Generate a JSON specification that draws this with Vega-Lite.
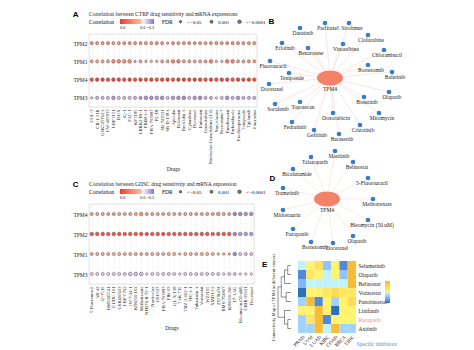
{
"$schema": "https://vega.github.io/schema/vega-lite/v6.json",
"background": "white",
"padding": {"left": 72, "top": 11, "right": 0, "bottom": 0},
"config": {"view": {"stroke": null}, "font": "Liberation Serif", "axis": {"labelFont": "Liberation Serif", "titleFont": "Liberation Serif", "titleFontWeight": "normal", "labelColor": "#222", "titleColor": "#222"}, "legend": {"labelFont": "Liberation Serif", "titleFont": "Liberation Serif", "titleFontWeight": "normal"}},
"datasets": {
"ctrp": [
{"d":"COL-3","g":"TPM2","r":0.22,"f":2},{"d":"CR-1-31B","g":"TPM2","r":0.2,"f":2},{"d":"GSK525762A","g":"TPM2","r":0.2,"f":2},{"d":"GW-405833","g":"TPM2","r":0.22,"f":2},{"d":"I-BET151","g":"TPM2","r":0.2,"f":2},{"d":"ISOX","g":"TPM2","r":0.18,"f":2},{"d":"JQ-1","g":"TPM2","r":0.2,"f":2},{"d":"PAC-1","g":"TPM2","r":0.22,"f":2},{"d":"KPT185","g":"TPM2","r":0.2,"f":2},{"d":"LRRK2-IN-1","g":"TPM2","r":0.2,"f":2},{"d":"PRIMA-1","g":"TPM2","r":0.18,"f":2},{"d":"PHA-793887","g":"TPM2","r":0.2,"f":2},{"d":"PL-DI","g":"TPM2","r":0.22,"f":2},{"d":"SB-743921","g":"TPM2","r":0.2,"f":2},{"d":"SR-II-138A","g":"TPM2","r":0.1,"f":1},{"d":"Apicidin","g":"TPM2","r":0.22,"f":2},{"d":"Belinostat","g":"TPM2","r":0.2,"f":2},{"d":"Brefeldin A","g":"TPM2","r":0.2,"f":2},{"d":"Cytarabine","g":"TPM2","r":0.22,"f":2},{"d":"Docetaxel","g":"TPM2","r":0.2,"f":2},{"d":"Entinostat","g":"TPM2","r":0.2,"f":2},{"d":"Gemcitabine","g":"TPM2","r":0.18,"f":2},{"d":"Navitoclax:Gemcitabine (1:1)","g":"TPM2","r":0.2,"f":2},{"d":"Narciclasine","g":"TPM2","r":0.22,"f":2},{"d":"Necrostatin-7","g":"TPM2","r":0.2,"f":2},{"d":"Panobinostat","g":"TPM2","r":0.2,"f":2},{"d":"Parbendazole","g":"TPM2","r":0.22,"f":2},{"d":"Prochlorperazine","g":"TPM2","r":0.2,"f":2},{"d":"Teniposide","g":"TPM2","r":0.2,"f":2},{"d":"Tipifarnib","g":"TPM2","r":0.2,"f":2},{"d":"Vincristine","g":"TPM2","r":0.2,"f":2},
{"d":"COL-3","g":"TPM1","r":0.15,"f":2},{"d":"CR-1-31B","g":"TPM1","r":0.15,"f":2},{"d":"GSK525762A","g":"TPM1","r":0.15,"f":2},{"d":"GW-405833","g":"TPM1","r":0.15,"f":2},{"d":"I-BET151","g":"TPM1","r":0.25,"f":3},{"d":"ISOX","g":"TPM1","r":0.25,"f":3},{"d":"JQ-1","g":"TPM1","r":0.2,"f":3},{"d":"PAC-1","g":"TPM1","r":0.25,"f":3},{"d":"KPT185","g":"TPM1","r":0.1,"f":1},{"d":"LRRK2-IN-1","g":"TPM1","r":0.12,"f":2},{"d":"PRIMA-1","g":"TPM1","r":0.08,"f":1},{"d":"PHA-793887","g":"TPM1","r":0.08,"f":1},{"d":"PL-DI","g":"TPM1","r":0.1,"f":1},{"d":"SB-743921","g":"TPM1","r":0.15,"f":2},{"d":"SR-II-138A","g":"TPM1","r":0.15,"f":2},{"d":"Apicidin","g":"TPM1","r":0.25,"f":3},{"d":"Belinostat","g":"TPM1","r":0.28,"f":3},{"d":"Brefeldin A","g":"TPM1","r":0.2,"f":2},{"d":"Cytarabine","g":"TPM1","r":0.15,"f":2},{"d":"Docetaxel","g":"TPM1","r":0.12,"f":2},{"d":"Entinostat","g":"TPM1","r":0.15,"f":2},{"d":"Gemcitabine","g":"TPM1","r":0.2,"f":2},{"d":"Navitoclax:Gemcitabine (1:1)","g":"TPM1","r":0.28,"f":3},{"d":"Narciclasine","g":"TPM1","r":0.08,"f":1},{"d":"Necrostatin-7","g":"TPM1","r":0.1,"f":1},{"d":"Panobinostat","g":"TPM1","r":0.3,"f":3},{"d":"Parbendazole","g":"TPM1","r":0.28,"f":3},{"d":"Prochlorperazine","g":"TPM1","r":0.15,"f":2},{"d":"Teniposide","g":"TPM1","r":0.15,"f":2},{"d":"Tipifarnib","g":"TPM1","r":0.2,"f":2},{"d":"Vincristine","g":"TPM1","r":0.15,"f":2},
{"d":"COL-3","g":"TPM4","r":0.5,"f":3},{"d":"CR-1-31B","g":"TPM4","r":0.55,"f":3},{"d":"GSK525762A","g":"TPM4","r":0.55,"f":3},{"d":"GW-405833","g":"TPM4","r":0.5,"f":3},{"d":"I-BET151","g":"TPM4","r":0.55,"f":3},{"d":"ISOX","g":"TPM4","r":0.55,"f":3},{"d":"JQ-1","g":"TPM4","r":0.5,"f":3},{"d":"PAC-1","g":"TPM4","r":0.55,"f":3},{"d":"KPT185","g":"TPM4","r":0.5,"f":3},{"d":"LRRK2-IN-1","g":"TPM4","r":0.55,"f":3},{"d":"PRIMA-1","g":"TPM4","r":0.5,"f":3},{"d":"PHA-793887","g":"TPM4","r":0.55,"f":3},{"d":"PL-DI","g":"TPM4","r":0.5,"f":3},{"d":"SB-743921","g":"TPM4","r":0.55,"f":3},{"d":"SR-II-138A","g":"TPM4","r":0.55,"f":3},{"d":"Apicidin","g":"TPM4","r":0.5,"f":3},{"d":"Belinostat","g":"TPM4","r":0.55,"f":3},{"d":"Brefeldin A","g":"TPM4","r":0.55,"f":3},{"d":"Cytarabine","g":"TPM4","r":0.5,"f":3},{"d":"Docetaxel","g":"TPM4","r":0.55,"f":3},{"d":"Entinostat","g":"TPM4","r":0.55,"f":3},{"d":"Gemcitabine","g":"TPM4","r":0.5,"f":3},{"d":"Navitoclax:Gemcitabine (1:1)","g":"TPM4","r":0.55,"f":3},{"d":"Narciclasine","g":"TPM4","r":0.5,"f":3},{"d":"Necrostatin-7","g":"TPM4","r":0.55,"f":3},{"d":"Panobinostat","g":"TPM4","r":0.55,"f":3},{"d":"Parbendazole","g":"TPM4","r":0.5,"f":3},{"d":"Prochlorperazine","g":"TPM4","r":0.55,"f":3},{"d":"Teniposide","g":"TPM4","r":0.5,"f":3},{"d":"Tipifarnib","g":"TPM4","r":0.55,"f":3},{"d":"Vincristine","g":"TPM4","r":0.5,"f":3},
{"d":"COL-3","g":"TPM3","r":-0.1,"f":1},{"d":"CR-1-31B","g":"TPM3","r":-0.15,"f":2},{"d":"GSK525762A","g":"TPM3","r":-0.15,"f":2},{"d":"GW-405833","g":"TPM3","r":-0.12,"f":2},{"d":"I-BET151","g":"TPM3","r":-0.2,"f":3},{"d":"ISOX","g":"TPM3","r":-0.12,"f":2},{"d":"JQ-1","g":"TPM3","r":-0.12,"f":2},{"d":"PAC-1","g":"TPM3","r":-0.12,"f":2},{"d":"KPT185","g":"TPM3","r":-0.15,"f":2},{"d":"LRRK2-IN-1","g":"TPM3","r":-0.2,"f":2},{"d":"PRIMA-1","g":"TPM3","r":-0.22,"f":3},{"d":"PHA-793887","g":"TPM3","r":-0.22,"f":3},{"d":"PL-DI","g":"TPM3","r":-0.2,"f":3},{"d":"SB-743921","g":"TPM3","r":-0.22,"f":3},{"d":"SR-II-138A","g":"TPM3","r":-0.12,"f":2},{"d":"Apicidin","g":"TPM3","r":-0.2,"f":3},{"d":"Belinostat","g":"TPM3","r":-0.22,"f":3},{"d":"Brefeldin A","g":"TPM3","r":-0.25,"f":3},{"d":"Cytarabine","g":"TPM3","r":-0.12,"f":2},{"d":"Docetaxel","g":"TPM3","r":-0.2,"f":3},{"d":"Entinostat","g":"TPM3","r":-0.25,"f":3},{"d":"Gemcitabine","g":"TPM3","r":-0.15,"f":2},{"d":"Navitoclax:Gemcitabine (1:1)","g":"TPM3","r":-0.15,"f":2},{"d":"Narciclasine","g":"TPM3","r":-0.08,"f":1},{"d":"Necrostatin-7","g":"TPM3","r":-0.12,"f":2},{"d":"Panobinostat","g":"TPM3","r":-0.22,"f":3},{"d":"Parbendazole","g":"TPM3","r":-0.15,"f":2},{"d":"Prochlorperazine","g":"TPM3","r":-0.2,"f":3},{"d":"Teniposide","g":"TPM3","r":-0.15,"f":2},{"d":"Tipifarnib","g":"TPM3","r":-0.15,"f":2},{"d":"Vincristine","g":"TPM3","r":-0.15,"f":2}
],
"gdsc": [
{"d":"5-Fluorouracil","g":"TPM4","r":0.15,"f":2},{"d":"AR-42","g":"TPM4","r":0.15,"f":2},{"d":"AT-7519","g":"TPM4","r":0.15,"f":2},{"d":"BMS345541","g":"TPM4","r":0.15,"f":2},{"d":"CUDC-101","g":"TPM4","r":0.18,"f":2},{"d":"GSK690693","g":"TPM4","r":0.15,"f":2},{"d":"I-BET-762","g":"TPM4","r":0.15,"f":2},{"d":"JW-7-24-1","g":"TPM4","r":0.15,"f":2},{"d":"KIN001-102","g":"TPM4","r":0.15,"f":2},{"d":"Methotrexate","g":"TPM4","r":0.2,"f":3},{"d":"NPK76-II-72-1","g":"TPM4","r":0.15,"f":2},{"d":"Navitoclax","g":"TPM4","r":0.15,"f":2},{"d":"OSI-027","g":"TPM4","r":0.15,"f":2},{"d":"PHA-793887","g":"TPM4","r":0.15,"f":2},{"d":"PIK-93","g":"TPM4","r":0.15,"f":2},{"d":"QL-X-138","g":"TPM4","r":0.15,"f":2},{"d":"TAK-715","g":"TPM4","r":0.15,"f":2},{"d":"THZ-2-102-1","g":"TPM4","r":0.15,"f":2},{"d":"TPCA-1","g":"TPM4","r":0.15,"f":2},{"d":"Tubastatin A","g":"TPM4","r":0.15,"f":2},{"d":"Vorinostat","g":"TPM4","r":0.15,"f":2},{"d":"WZ3105","g":"TPM4","r":0.15,"f":2},{"d":"XMD13-2","g":"TPM4","r":0.18,"f":2},{"d":"ZSTK474","g":"TPM4","r":0.2,"f":3},{"d":"BMS-754807","g":"TPM4","r":0.15,"f":2},{"d":"KIN001-260","g":"TPM4","r":0.15,"f":2},{"d":"17-AAG","g":"TPM4","r":-0.25,"f":3},{"d":"Bleomycin (50 uM)","g":"TPM4","r":-0.25,"f":3},{"d":"CHIR-99021","g":"TPM4","r":-0.22,"f":3},{"d":"Docetaxel","g":"TPM4","r":-0.22,"f":3},
{"d":"5-Fluorouracil","g":"TPM2","r":0.5,"f":3},{"d":"AR-42","g":"TPM2","r":0.5,"f":3},{"d":"AT-7519","g":"TPM2","r":0.52,"f":3},{"d":"BMS345541","g":"TPM2","r":0.5,"f":3},{"d":"CUDC-101","g":"TPM2","r":0.5,"f":3},{"d":"GSK690693","g":"TPM2","r":0.52,"f":3},{"d":"I-BET-762","g":"TPM2","r":0.5,"f":3},{"d":"JW-7-24-1","g":"TPM2","r":0.5,"f":3},{"d":"KIN001-102","g":"TPM2","r":0.5,"f":3},{"d":"Methotrexate","g":"TPM2","r":0.52,"f":3},{"d":"NPK76-II-72-1","g":"TPM2","r":0.5,"f":3},{"d":"Navitoclax","g":"TPM2","r":0.5,"f":3},{"d":"OSI-027","g":"TPM2","r":0.5,"f":3},{"d":"PHA-793887","g":"TPM2","r":0.52,"f":3},{"d":"PIK-93","g":"TPM2","r":0.5,"f":3},{"d":"QL-X-138","g":"TPM2","r":0.5,"f":3},{"d":"TAK-715","g":"TPM2","r":0.5,"f":3},{"d":"THZ-2-102-1","g":"TPM2","r":0.52,"f":3},{"d":"TPCA-1","g":"TPM2","r":0.5,"f":3},{"d":"Tubastatin A","g":"TPM2","r":0.5,"f":3},{"d":"Vorinostat","g":"TPM2","r":0.5,"f":3},{"d":"WZ3105","g":"TPM2","r":0.52,"f":3},{"d":"XMD13-2","g":"TPM2","r":0.5,"f":3},{"d":"ZSTK474","g":"TPM2","r":0.5,"f":3},{"d":"BMS-754807","g":"TPM2","r":0.5,"f":3},{"d":"KIN001-260","g":"TPM2","r":0.5,"f":3},{"d":"17-AAG","g":"TPM2","r":-0.25,"f":3},{"d":"Bleomycin (50 uM)","g":"TPM2","r":-0.2,"f":3},{"d":"CHIR-99021","g":"TPM2","r":-0.2,"f":3},{"d":"Docetaxel","g":"TPM2","r":-0.2,"f":3},
{"d":"5-Fluorouracil","g":"TPM1","r":0.1,"f":2},{"d":"AR-42","g":"TPM1","r":0.1,"f":2},{"d":"AT-7519","g":"TPM1","r":0.1,"f":2},{"d":"BMS345541","g":"TPM1","r":0.1,"f":2},{"d":"CUDC-101","g":"TPM1","r":0.1,"f":2},{"d":"GSK690693","g":"TPM1","r":0.1,"f":2},{"d":"I-BET-762","g":"TPM1","r":0.1,"f":2},{"d":"JW-7-24-1","g":"TPM1","r":0.1,"f":2},{"d":"KIN001-102","g":"TPM1","r":0.1,"f":2},{"d":"Methotrexate","g":"TPM1","r":0.12,"f":2},{"d":"NPK76-II-72-1","g":"TPM1","r":0.1,"f":2},{"d":"Navitoclax","g":"TPM1","r":0.1,"f":2},{"d":"OSI-027","g":"TPM1","r":0.1,"f":2},{"d":"PHA-793887","g":"TPM1","r":0.1,"f":2},{"d":"PIK-93","g":"TPM1","r":0.1,"f":2},{"d":"QL-X-138","g":"TPM1","r":0.1,"f":2},{"d":"TAK-715","g":"TPM1","r":0.05,"f":1},{"d":"THZ-2-102-1","g":"TPM1","r":0.1,"f":2},{"d":"TPCA-1","g":"TPM1","r":0.1,"f":2},{"d":"Tubastatin A","g":"TPM1","r":0.1,"f":2},{"d":"Vorinostat","g":"TPM1","r":0.1,"f":2},{"d":"WZ3105","g":"TPM1","r":0.1,"f":2},{"d":"XMD13-2","g":"TPM1","r":0.1,"f":2},{"d":"ZSTK474","g":"TPM1","r":0.05,"f":1},{"d":"BMS-754807","g":"TPM1","r":0.03,"f":1},{"d":"KIN001-260","g":"TPM1","r":0.05,"f":1},{"d":"17-AAG","g":"TPM1","r":-0.25,"f":3},{"d":"Bleomycin (50 uM)","g":"TPM1","r":-0.1,"f":2},{"d":"CHIR-99021","g":"TPM1","r":-0.1,"f":2},{"d":"Docetaxel","g":"TPM1","r":-0.1,"f":2},
{"d":"5-Fluorouracil","g":"TPM3","r":-0.08,"f":2},{"d":"AR-42","g":"TPM3","r":-0.08,"f":2},{"d":"AT-7519","g":"TPM3","r":-0.08,"f":2},{"d":"BMS345541","g":"TPM3","r":-0.05,"f":2},{"d":"CUDC-101","g":"TPM3","r":-0.08,"f":2},{"d":"GSK690693","g":"TPM3","r":-0.08,"f":2},{"d":"I-BET-762","g":"TPM3","r":-0.1,"f":2},{"d":"JW-7-24-1","g":"TPM3","r":-0.12,"f":3},{"d":"KIN001-102","g":"TPM3","r":-0.12,"f":3},{"d":"Methotrexate","g":"TPM3","r":-0.12,"f":3},{"d":"NPK76-II-72-1","g":"TPM3","r":-0.05,"f":1},{"d":"Navitoclax","g":"TPM3","r":-0.08,"f":2},{"d":"OSI-027","g":"TPM3","r":-0.08,"f":2},{"d":"PHA-793887","g":"TPM3","r":-0.08,"f":2},{"d":"PIK-93","g":"TPM3","r":-0.1,"f":2},{"d":"QL-X-138","g":"TPM3","r":-0.08,"f":2},{"d":"TAK-715","g":"TPM3","r":-0.05,"f":1},{"d":"THZ-2-102-1","g":"TPM3","r":-0.08,"f":2},{"d":"TPCA-1","g":"TPM3","r":-0.08,"f":2},{"d":"Tubastatin A","g":"TPM3","r":-0.08,"f":2},{"d":"Vorinostat","g":"TPM3","r":-0.08,"f":2},{"d":"WZ3105","g":"TPM3","r":-0.1,"f":2},{"d":"XMD13-2","g":"TPM3","r":-0.08,"f":2},{"d":"ZSTK474","g":"TPM3","r":-0.08,"f":2},{"d":"BMS-754807","g":"TPM3","r":-0.05,"f":1},{"d":"KIN001-260","g":"TPM3","r":-0.08,"f":2},{"d":"17-AAG","g":"TPM3","r":-0.1,"f":2},{"d":"Bleomycin (50 uM)","g":"TPM3","r":-0.05,"f":1},{"d":"CHIR-99021","g":"TPM3","r":-0.05,"f":1},{"d":"Docetaxel","g":"TPM3","r":-0.05,"f":1}
],
"netB": [
{"n":"Dasatinib","px":298,"py":27},{"n":"Paclitaxel","px":323,"py":22},{"n":"Sirolimus","px":347,"py":22},{"n":"Clofarabine","px":366,"py":34},{"n":"Erlotinib","px":280,"py":42},{"n":"Bexarotene","px":306,"py":47},{"n":"Vinorelbine","px":341,"py":43},{"n":"Chlorambucil","px":382,"py":49},{"n":"Fluorouracil","px":268,"py":60},{"n":"Bortezomib","px":366,"py":64},{"n":"Bafetinib","px":390,"py":71},{"n":"Teniposide","px":287,"py":72},{"n":"Docetaxel","px":267,"py":83},{"n":"Olaparib","px":387,"py":91},{"n":"Sorafenib","px":273,"py":103},{"n":"Topotecan","px":298,"py":101},{"n":"Bosutinib","px":362,"py":96},{"n":"Doxorubicin","px":331,"py":112},{"n":"Mitomycin","px":377,"py":112},{"n":"Fedratinib","px":290,"py":121},{"n":"Crizotinib","px":358,"py":124},{"n":"Gefitinib","px":312,"py":129},{"n":"Barasertib","px":337,"py":133},
{"n":"TPM4","px":328,"py":77,"c":1}
],
"netD": [
{"n":"Masitinib","px":333,"py":150},{"n":"Talazoparib","px":309,"py":156},{"n":"Belinostat","px":351,"py":161},{"n":"Bicalutamide","px":291,"py":168},{"n":"5-Fluorouracil","px":366,"py":177},{"n":"Trametinib","px":281,"py":187},{"n":"Methotrexate","px":371,"py":198},{"n":"Midostaurin","px":281,"py":209},{"n":"Bleomycin (50 uM)","px":366,"py":219},{"n":"Pazopanib","px":291,"py":228},{"n":"Olaparib","px":351,"py":235},{"n":"Bortezomib","px":309,"py":241},{"n":"Docetaxel","px":331,"py":242},
{"n":"TPM4","px":325,"py":198,"c":1}
],
"cmap": [
{"drug":"Selumetinib","ca":"PRAD","v":-0.1},{"drug":"Selumetinib","ca":"UVM","v":0},{"drug":"Selumetinib","ca":"LUAD","v":0.3},{"drug":"Selumetinib","ca":"KIRC","v":-0.4},{"drug":"Selumetinib","ca":"COAD","v":0},{"drug":"Selumetinib","ca":"BRCA","v":-0.8},{"drug":"Selumetinib","ca":"LIHC","v":0.9},
{"drug":"Olaparib","ca":"PRAD","v":-0.8},{"drug":"Olaparib","ca":"UVM","v":0.2},{"drug":"Olaparib","ca":"LUAD","v":0},{"drug":"Olaparib","ca":"KIRC","v":-0.1},{"drug":"Olaparib","ca":"COAD","v":0},{"drug":"Olaparib","ca":"BRCA","v":-0.4},{"drug":"Olaparib","ca":"LIHC","v":0.9},
{"drug":"Belinostat","ca":"PRAD","v":-0.5},{"drug":"Belinostat","ca":"UVM","v":-0.1},{"drug":"Belinostat","ca":"LUAD","v":-0.1},{"drug":"Belinostat","ca":"KIRC","v":-0.1},{"drug":"Belinostat","ca":"COAD","v":-0.1},{"drug":"Belinostat","ca":"BRCA","v":-0.1},{"drug":"Belinostat","ca":"LIHC","v":0.9},
{"drug":"Vorinostat","ca":"PRAD","v":-1},{"drug":"Vorinostat","ca":"UVM","v":0},{"drug":"Vorinostat","ca":"LUAD","v":0},{"drug":"Vorinostat","ca":"KIRC","v":0.2},{"drug":"Vorinostat","ca":"COAD","v":0.4},{"drug":"Vorinostat","ca":"BRCA","v":0.2},{"drug":"Vorinostat","ca":"LIHC","v":0.2},
{"drug":"Panobinostat","ca":"PRAD","v":-0.3},{"drug":"Panobinostat","ca":"UVM","v":0.9},{"drug":"Panobinostat","ca":"LUAD","v":-0.8},{"drug":"Panobinostat","ca":"KIRC","v":0},{"drug":"Panobinostat","ca":"COAD","v":-0.3},{"drug":"Panobinostat","ca":"BRCA","v":0},{"drug":"Panobinostat","ca":"LIHC","v":0.4},
{"drug":"Linifanib","ca":"PRAD","v":0},{"drug":"Linifanib","ca":"UVM","v":0},{"drug":"Linifanib","ca":"LUAD","v":0.9},{"drug":"Linifanib","ca":"KIRC","v":0},{"drug":"Linifanib","ca":"COAD","v":-1},{"drug":"Linifanib","ca":"BRCA","v":0},{"drug":"Linifanib","ca":"LIHC","v":0},
{"drug":"Rucaparib","ca":"PRAD","v":-0.3},{"drug":"Rucaparib","ca":"UVM","v":0.2},{"drug":"Rucaparib","ca":"LUAD","v":0.9},{"drug":"Rucaparib","ca":"KIRC","v":-0.8},{"drug":"Rucaparib","ca":"COAD","v":0},{"drug":"Rucaparib","ca":"BRCA","v":0},{"drug":"Rucaparib","ca":"LIHC","v":0},
{"drug":"Axitinib","ca":"PRAD","v":-0.3},{"drug":"Axitinib","ca":"UVM","v":-0.3},{"drug":"Axitinib","ca":"LUAD","v":0.9},{"drug":"Axitinib","ca":"KIRC","v":-0.1},{"drug":"Axitinib","ca":"COAD","v":0.9},{"drug":"Axitinib","ca":"BRCA","v":-0.3},{"drug":"Axitinib","ca":"LIHC","v":-0.3}
],
"dendro": [
{"h1":1,"h2":1,"y1":0.5,"y2":1.5},{"h1":2,"h2":2,"y1":1,"y2":2.5},{"h1":1.5,"h2":1.5,"y1":3.5,"y2":4.5},{"h1":3,"h2":3,"y1":1.75,"y2":4},{"h1":1,"h2":1,"y1":6.5,"y2":7.5},{"h1":2,"h2":2,"y1":5.5,"y2":7},{"h1":4,"h2":4,"y1":2.875,"y2":6.25},
{"h1":0,"h2":1,"y1":0.5,"y2":0.5},{"h1":0,"h2":1,"y1":1.5,"y2":1.5},{"h1":1,"h2":2,"y1":1,"y2":1},{"h1":0,"h2":2,"y1":2.5,"y2":2.5},{"h1":0,"h2":1.5,"y1":3.5,"y2":3.5},{"h1":0,"h2":1.5,"y1":4.5,"y2":4.5},{"h1":2,"h2":3,"y1":1.75,"y2":1.75},{"h1":1.5,"h2":3,"y1":4,"y2":4},{"h1":0,"h2":1,"y1":6.5,"y2":6.5},{"h1":0,"h2":1,"y1":7.5,"y2":7.5},{"h1":0,"h2":2,"y1":5.5,"y2":5.5},{"h1":1,"h2":2,"y1":7,"y2":7},{"h1":3,"h2":4,"y1":2.875,"y2":2.875},{"h1":2,"h2":4,"y1":6.25,"y2":6.25}
]
},
"hconcat": [
{
"vconcat": [
{
"title": {"text": "A", "anchor": "start", "frame": "bounds", "font": "Liberation Sans", "fontSize": 8, "fontWeight": "bold", "offset": -8},
"vconcat": [
{
"width": 168, "height": 73,
"view": {"stroke": "#cccccc", "strokeWidth": 0.6},
"title": {"text": "Correlation between CTRP drug sensitivity and mRNA expressions", "anchor": "start", "frame": "group", "font": "Liberation Serif", "fontSize": 5.5, "fontWeight": "normal", "color": "#222", "offset": 2},
"data": {"name": "ctrp"},
"mark": {"type": "circle", "stroke": "#5b4848", "strokeWidth": 0.5, "opacity": 1},
"encoding": {
"x": {"field": "d", "type": "nominal", "sort": null, "title": "Drugs", "axis": {"labelAngle": -90, "labelFontSize": 4.6, "labelLimit": 60, "ticks": false, "labelPadding": 2, "domain": false, "grid": true, "gridColor": "#e2e2e2", "gridDash": [2, 2], "gridWidth": 0.5, "titleFontSize": 5.5, "titlePadding": 3}},
"y": {"field": "g", "type": "nominal", "sort": ["TPM2", "TPM1", "TPM4", "TPM3"], "title": null, "axis": {"labelFontSize": 5.5, "ticks": false, "labelPadding": 2, "domain": false}},
"color": {"field": "r", "type": "quantitative", "scale": {"domain": [0.6, 0, -0.3], "range": ["#e4392c", "#ffffff", "#8577c0"]}, "legend": {"orient": "top", "direction": "horizontal", "title": "Correlation", "titleOrient": "left", "titleFontSize": 5.5, "gradientLength": 34, "gradientThickness": 5, "labelFontSize": 4.2, "values": [0.6, 0, -0.3], "format": ".1f", "labelOverlap": false, "offset": 3}},
"size": {"field": "f", "type": "ordinal", "scale": {"domain": [1, 2, 3], "range": [6, 13, 21]}, "legend": {"orient": "top", "direction": "horizontal", "title": "FDR", "titleOrient": "left", "titleFontSize": 5.5, "labelFontSize": 5, "symbolFillColor": "#777", "symbolStrokeColor": "#333", "symbolStrokeWidth": 0.6, "labelExpr": "datum.value == 1 ? '<=0.05' : datum.value == 2 ? '0.001' : '<=0.0001'", "columnPadding": 6, "offset": 3}}
}
}
],
"resolve": {"scale": {"color": "independent", "size": "independent"}, "legend": {"color": "independent", "size": "independent"}}
},
{
"title": {"text": "C", "anchor": "start", "frame": "bounds", "font": "Liberation Sans", "fontSize": 8, "fontWeight": "bold", "offset": -8},
"vconcat": [
{
"width": 165, "height": 80,
"view": {"stroke": "#cccccc", "strokeWidth": 0.6},
"title": {"text": "Correlation between GDSC drug sensitivity and mRNA expression", "anchor": "start", "frame": "group", "font": "Liberation Serif", "fontSize": 5.5, "fontWeight": "normal", "color": "#222", "offset": 2},
"data": {"name": "gdsc"},
"mark": {"type": "circle", "stroke": "#5b4848", "strokeWidth": 0.5, "opacity": 1},
"encoding": {
"x": {"field": "d", "type": "nominal", "sort": null, "title": "Drugs", "axis": {"labelAngle": -90, "labelFontSize": 4.6, "labelLimit": 60, "ticks": false, "labelPadding": 2, "domain": false, "grid": true, "gridColor": "#e2e2e2", "gridDash": [2, 2], "gridWidth": 0.5, "titleFontSize": 5.5, "titlePadding": 3}},
"y": {"field": "g", "type": "nominal", "sort": ["TPM4", "TPM2", "TPM1", "TPM3"], "title": null, "axis": {"labelFontSize": 5.5, "ticks": false, "labelPadding": 2, "domain": false}},
"color": {"field": "r", "type": "quantitative", "scale": {"domain": [0.6, 0, -0.3], "range": ["#e4392c", "#ffffff", "#8577c0"]}, "legend": {"orient": "top", "direction": "horizontal", "title": "Correlation", "titleOrient": "left", "titleFontSize": 5.5, "gradientLength": 34, "gradientThickness": 5, "labelFontSize": 4.2, "values": [0.6, 0, -0.3], "format": ".1f", "labelOverlap": false, "offset": 3}},
"size": {"field": "f", "type": "ordinal", "scale": {"domain": [1, 2, 3], "range": [6, 13, 21]}, "legend": {"orient": "top", "direction": "horizontal", "title": "FDR", "titleOrient": "left", "titleFontSize": 5.5, "labelFontSize": 5, "symbolFillColor": "#777", "symbolStrokeColor": "#333", "symbolStrokeWidth": 0.6, "labelExpr": "datum.value == 1 ? '<=0.05' : datum.value == 2 ? '0.001' : '<=0.0001'", "columnPadding": 6, "offset": 3}}
}
}
],
"resolve": {"scale": {"color": "independent", "size": "independent"}, "legend": {"color": "independent", "size": "independent"}}
}
],
"spacing": 8,
"align": "none",
"resolve": {"scale": {"x": "independent", "y": "independent", "color": "independent", "size": "independent"}, "legend": {"color": "independent", "size": "independent"}}
},
{
"vconcat": [
{
"width": 140, "height": 109,
"title": {"text": "B", "anchor": "start", "frame": "bounds", "font": "Liberation Sans", "fontSize": 8, "fontWeight": "bold", "offset": -5, "dx": 9},
"data": {"name": "netB"},
"encoding": {
"x": {"field": "px", "type": "quantitative", "scale": {"domain": [276, 416]}, "axis": null},
"y": {"field": "py", "type": "quantitative", "scale": {"domain": [33, 142], "reverse": true}, "axis": null}
},
"layer": [
{"transform": [{"filter": "datum.c != 1"}], "mark": {"type": "rule", "color": "#efd9d2", "strokeWidth": 0.6}, "encoding": {"x2": {"datum": 328}, "y2": {"datum": 77}}},
{"transform": [{"filter": "datum.c == 1"}], "mark": {"type": "point", "shape": "M-1,0A1,0.58 0 1,1 1,0A1,0.58 0 1,1 -1,0Z", "filled": true, "color": "#f4826b", "size": 680, "opacity": 1}},
{"transform": [{"filter": "datum.c != 1"}], "mark": {"type": "circle", "color": "#3b7dc4", "size": 22, "opacity": 1}},
{"mark": {"type": "text", "fontSize": 5.5, "font": "Liberation Serif", "color": "#222", "baseline": "top", "dx": 3, "dy": 2.5}, "transform": [{"filter": "datum.c != 1"}], "encoding": {"text": {"field": "n"}}},
{"mark": {"type": "text", "fontSize": 5.5, "font": "Liberation Serif", "color": "#222", "baseline": "top", "dy": 9}, "transform": [{"filter": "datum.c == 1"}], "encoding": {"text": {"field": "n"}}}
]
},
{
"width": 140, "height": 110,
"title": {"text": "D", "anchor": "start", "frame": "bounds", "font": "Liberation Sans", "fontSize": 8, "fontWeight": "bold", "offset": -40, "dx": -4},
"data": {"name": "netD"},
"encoding": {
"x": {"field": "px", "type": "quantitative", "scale": {"domain": [276, 416]}, "axis": null},
"y": {"field": "py", "type": "quantitative", "scale": {"domain": [142, 252], "reverse": true}, "axis": null}
},
"layer": [
{"transform": [{"filter": "datum.c != 1"}], "mark": {"type": "rule", "color": "#f8ddd0", "strokeWidth": 0.6}, "encoding": {"x2": {"datum": 325}, "y2": {"datum": 198}}},
{"transform": [{"filter": "datum.c == 1"}], "mark": {"type": "point", "shape": "M-1,0A1,0.58 0 1,1 1,0A1,0.58 0 1,1 -1,0Z", "filled": true, "color": "#f4826b", "size": 680, "opacity": 1}},
{"transform": [{"filter": "datum.c != 1"}], "mark": {"type": "circle", "color": "#3b7dc4", "size": 22, "opacity": 1}},
{"mark": {"type": "text", "fontSize": 5.5, "font": "Liberation Serif", "color": "#222", "baseline": "top", "dx": 4, "dy": 2.5}, "transform": [{"filter": "datum.c != 1"}], "encoding": {"text": {"field": "n"}}},
{"mark": {"type": "text", "fontSize": 5.5, "font": "Liberation Serif", "color": "#222", "baseline": "top", "dy": 9}, "transform": [{"filter": "datum.c == 1"}], "encoding": {"text": {"field": "n"}}}
]
},
{
"title": {"text": "E", "anchor": "start", "frame": "bounds", "font": "Liberation Sans", "fontSize": 8, "fontWeight": "bold", "offset": -16, "dx": -8},
"hconcat": [
{
"width": 13, "height": 72,
"data": {"name": "dendro"},
"mark": {"type": "rule", "color": "#444", "strokeWidth": 0.6},
"encoding": {
"x": {"field": "h1", "type": "quantitative", "scale": {"domain": [0, 4], "reverse": true}, "axis": null},
"x2": {"field": "h2"},
"y": {"field": "y1", "type": "quantitative", "scale": {"domain": [0, 8], "reverse": true}, "title": "Connectivity Map of TPM4 in different cancers", "axis": {"labels": false, "ticks": false, "domain": false, "grid": false, "titleFontSize": 4.6, "titlePadding": 3}},
"y2": {"field": "y2"}
}
},
{
"width": 58, "height": 72,
"data": {"name": "cmap"},
"mark": {"type": "rect"},
"encoding": {
"x": {"field": "ca", "type": "nominal", "sort": ["PRAD", "UVM", "LUAD", "KIRC", "COAD", "BRCA", "LIHC"], "title": "Specific inhibitors", "axis": {"labelAngle": -45, "labelFontSize": 5, "ticks": false, "domain": false, "labelPadding": 1, "titleFontSize": 5.5, "titleColor": "#4a90d0", "titleAnchor": "end", "titleAlign": "left", "titlePadding": -6}},
"y": {"field": "drug", "type": "nominal", "sort": ["Selumetinib", "Olaparib", "Belinostat", "Vorinostat", "Panobinostat", "Linifanib", "Rucaparib", "Axitinib"], "title": null, "axis": {"orient": "right", "labelFontSize": 5.5, "ticks": false, "domain": false, "labelPadding": 2, "labelColor": {"condition": {"test": "datum.value === 'Rucaparib'", "value": "#ef8a8a"}, "value": "#222"}}},
"color": {"field": "v", "type": "quantitative", "scale": {"domain": [-1, 0, 1], "range": ["#2c6fbd", "#ffffff", "#f2b630"]}, "legend": {"orient": "right", "direction": "vertical", "title": null, "gradientLength": 22, "gradientThickness": 5, "labelExpr": "''", "padding": 20, "offset": -32}}
}
}
],
"spacing": 0,
"resolve": {"scale": {"x": "independent", "y": "independent"}}
}
],
"spacing": 0,
"align": "none",
"resolve": {"scale": {"x": "independent", "y": "independent", "color": "independent"}, "legend": {"color": "independent"}}
}
],
"spacing": -8,
"align": "none",
"resolve": {"scale": {"x": "independent", "y": "independent", "color": "independent", "size": "independent"}, "legend": {"color": "independent", "size": "independent"}}
}
